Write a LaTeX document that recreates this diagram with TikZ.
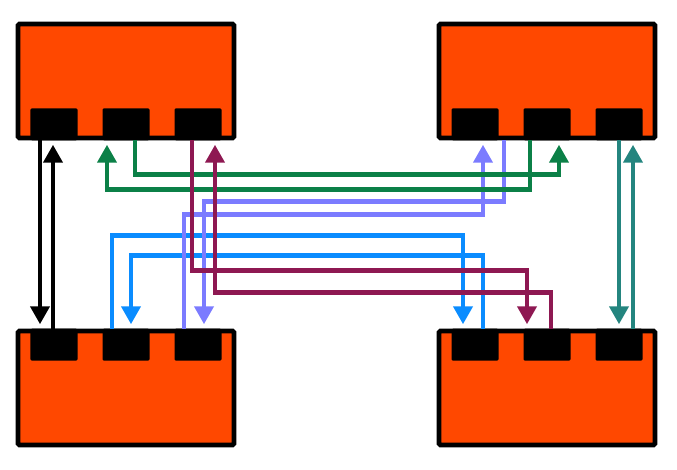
\documentclass[tikz,border=0pt]{standalone}
\usepackage{tikz}
\usetikzlibrary{arrows.meta,positioning,calc}
\usepackage{xcolor}
\definecolor{fbox}{HTML}{FF4800}
\definecolor{fgreen}{HTML}{0B8047}
\definecolor{fviolet}{HTML}{7B7BFF}
\definecolor{fblue}{HTML}{0A8CFF}
\definecolor{fmaroon}{HTML}{8E1852}
\definecolor{fteal}{HTML}{24857F}

\begin{document}
\begin{tikzpicture}[x=0.25mm, y=-0.25mm,
  unit/.style={draw=black, line width=1.15mm, fill=fbox, rounded corners=1pt,
    minimum width=54mm, minimum height=28.5mm, inner sep=0pt},
  port/.style={fill=black, rounded corners=1pt, minimum width=11.75mm,
    minimum height=8mm, inner sep=0pt, outer sep=0pt},
  link/.style={line width=1.15mm, draw=#1, shorten >=1.1mm,
    -{Triangle[length=4.5mm, width=4.7mm]}}]
\useasboundingbox (0,0) rectangle (677,469);
% ---------------- the four units ----------------
\node[unit] (tl) at (126,81) {};
\node[unit] (tr) at (547,81) {};
\node[unit] (bl) at (126,388) {};
\node[unit] (br) at (547,388) {};
% ports on the facing edges
\node[port, above=0pt of tl.south] (tl2) {};
\node[port, left=6.25mm of tl2] (tl1) {};
\node[port, right=6.25mm of tl2] (tl3) {};
\node[port, above=0pt of tr.south] (tr2) {};
\node[port, left=6.25mm of tr2] (tr1) {};
\node[port, right=6.25mm of tr2] (tr3) {};
\node[port, below=0pt of bl.north] (bl2) {};
\node[port, left=6.25mm of bl2] (bl1) {};
\node[port, right=6.25mm of bl2] (bl3) {};
\node[port, below=0pt of br.north] (br2) {};
\node[port, left=6.25mm of br2] (br1) {};
\node[port, right=6.25mm of br2] (br3) {};
% ---------------- links ----------------
\draw[link=fblue] ($(bl2.north)+(-14,0)$) -- ++(0,-93) -| ($(br1.north)+(-12,0)$);
\draw[link=fblue] ($(br1.north)+(8,0)$) -- ++(0,-73) -| ($(bl2.north)+(5,0)$);
\draw[link=fviolet] ($(tr1.south)+(29,0)$) -- ++(0,61) -| ($(bl3.north)+(6,0)$);
\draw[link=fviolet] ($(bl3.north)+(-14,0)$) -- ++(0,-114) -| ($(tr1.south)+(8,0)$);
\draw[link=fgreen] ($(tl2.south)+(9,0)$) -- ++(0,34) -| ($(tr2.south)+(12,0)$);
\draw[link=fgreen] ($(tr2.south)+(-17,0)$) -- ++(0,49) -| ($(tl2.south)+(-19,0)$);
\draw[link=fmaroon] ($(tl3.south)+(-6,0)$) -- ++(0,130) -| ($(br2.north)+(-20,0)$);
\draw[link=fmaroon] ($(br2.north)+(4,0)$) -- ++(0,-36) -| ($(tl3.south)+(17,0)$);
% straight pairs
\draw[link=black] ($(tl1.south)+(-14,0)$) -- ($(bl1.north)+(-14,0)$);
\draw[link=black] ($(bl1.north)+(-1,0)$) -- ($(tl1.south)+(-1,0)$);
\draw[link=fteal] (tr3.south) -- (br3.north);
\draw[link=fteal] ($(br3.north)+(14,0)$) -- ($(tr3.south)+(14,0)$);
\end{tikzpicture}
\end{document}
